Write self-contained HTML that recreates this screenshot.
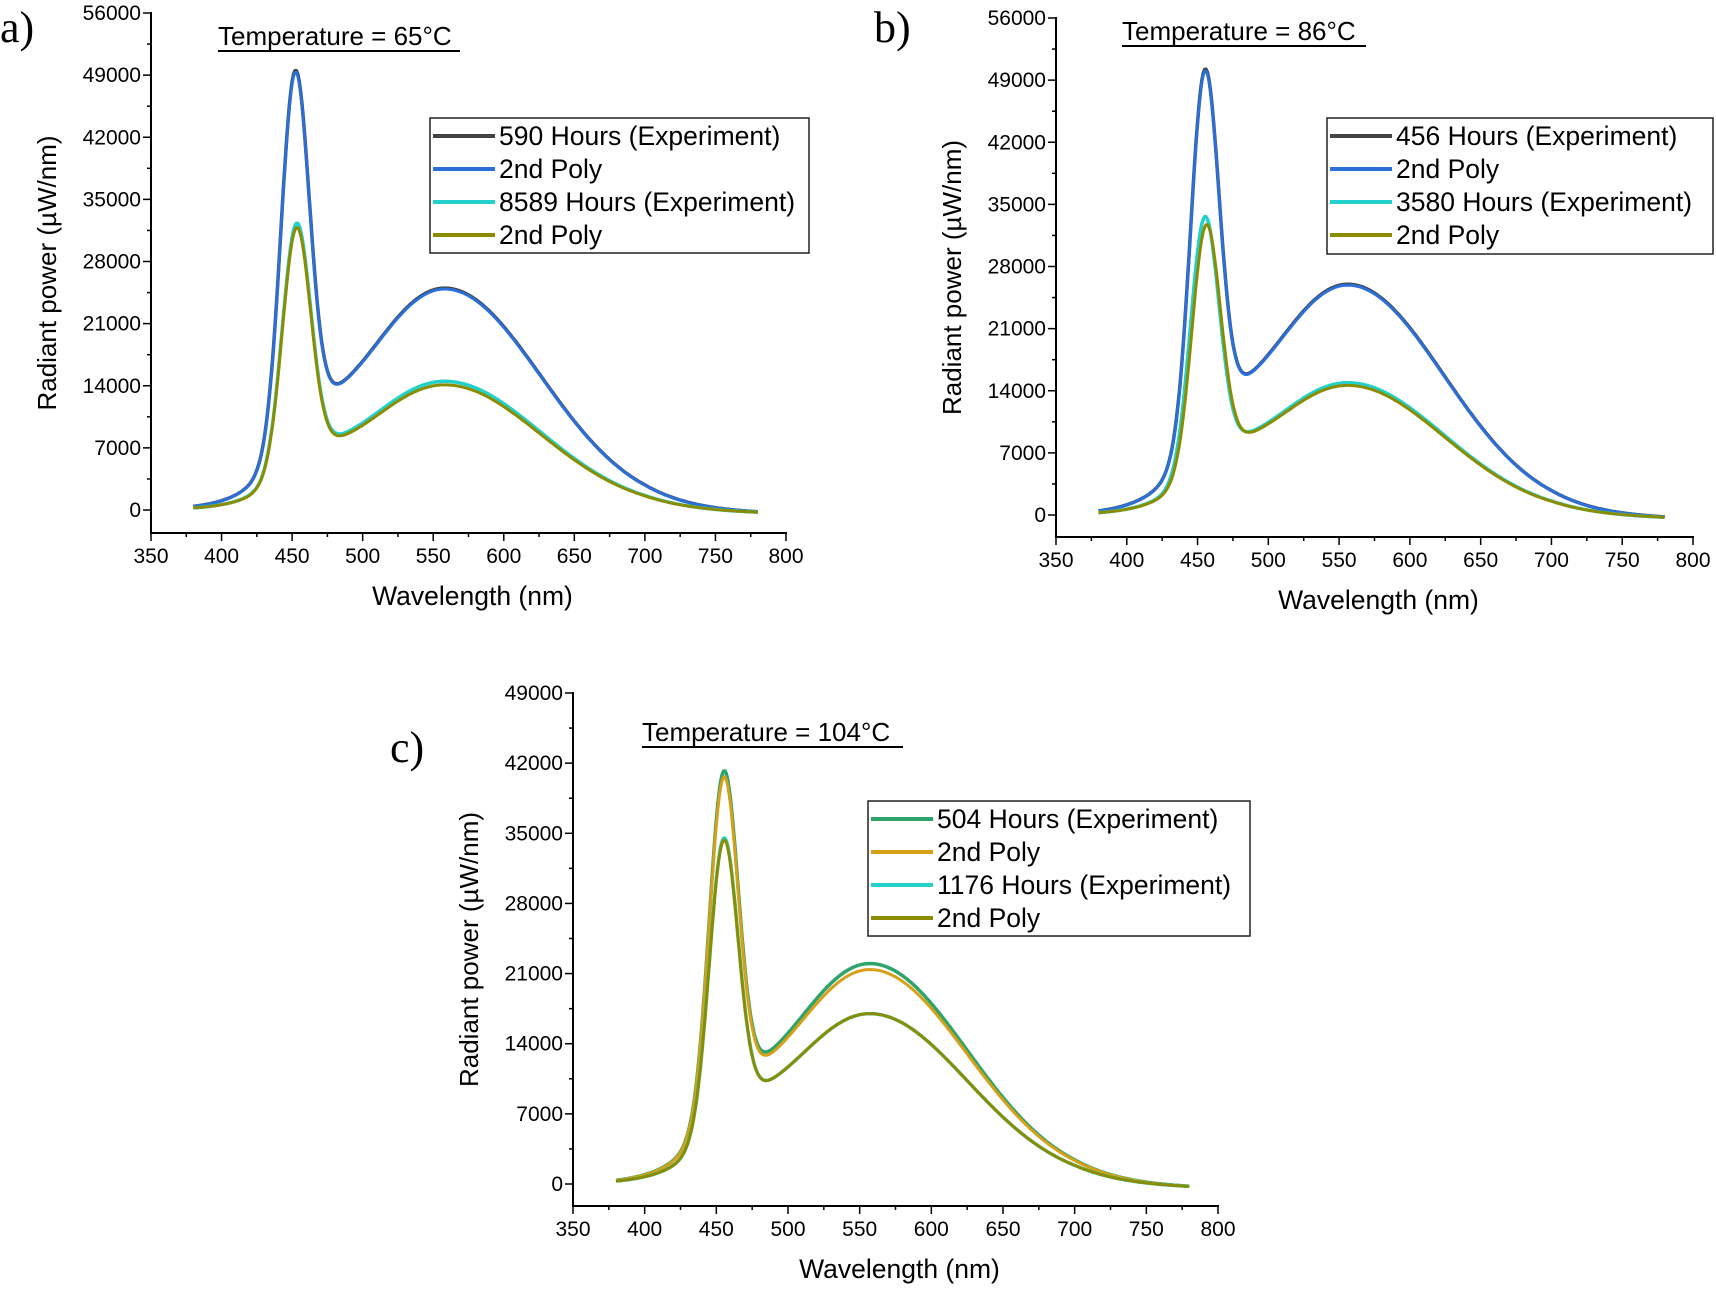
<!DOCTYPE html>
<html><head><meta charset="utf-8">
<style>
html,body{margin:0;padding:0;background:#fff;}
svg{display:block;font-family:"Liberation Sans",Arial,sans-serif;}
</style></head>
<body>
<svg id="s" width="1716" height="1289" viewBox="0 0 1716 1289" xmlns="http://www.w3.org/2000/svg">
<rect width="1716" height="1289" fill="#fff"/>
</svg>
<script>
const NS="http://www.w3.org/2000/svg";
const S=document.getElementById('s');
function el(t,a,txt){const e=document.createElementNS(NS,t);for(const k in a)e.setAttribute(k,a[k]);if(txt!==undefined)e.textContent=txt;S.appendChild(e);return e;}
function yel(x,p){const yc=p.yc||558;const sg=x<yc?62:68;return p.Y*Math.exp(-Math.pow((x-yc)/sg,2)/2);}
function spec(x,p){
  const g=(x,c,s)=>Math.exp(-Math.pow((x-c)/s,2)/2);
  const norm=1+0.08*g(p.c,p.c+8,22);
  const B=(p.P-yel(p.c,p))/norm;
  const blue=B*g(x,p.c,10)+0.08*B*g(x,p.c+8,22);
  return blue+yel(x,p)-(x>700?(x-700)*4:0);
}
function panel(c){
  const X=v=>c.x0+(v-350)*(c.x1-c.x0)/450;
  const Y=v=>c.y0-(v)*(c.y0-c.yt)/c.ymax;
  el('line',{x1:c.x0,y1:Y(c.ymax)-1,x2:c.x0,y2:c.ax,stroke:'#000','stroke-width':2});
  el('line',{x1:c.x0-1,y1:c.ax,x2:c.x1+1,y2:c.ax,stroke:'#000','stroke-width':2});
  for(let v=0;v<=c.ymax;v+=3500){
    const maj=v%7000==0;
    el('line',{x1:c.x0-(maj?8:4),y1:Y(v),x2:c.x0,y2:Y(v),stroke:'#000','stroke-width':1.5});
    if(maj) el('text',{x:c.x0-10,y:Y(v)+7,'text-anchor':'end','font-size':21,fill:'#000'},v);
  }
  for(let v=350;v<=800;v+=25){
    const maj=v%50==0;
    el('line',{x1:X(v),y1:c.ax,x2:X(v),y2:c.ax+(maj?8:4),stroke:'#000','stroke-width':1.5});
    if(maj) el('text',{x:X(v),y:c.ax+30,'text-anchor':'middle','font-size':21,fill:'#000'},v);
  }
  el('text',{x:(c.x0+c.x1)/2+4,y:c.ax+72,'text-anchor':'middle','font-size':26.5,fill:'#000'},'Wavelength (nm)');
  const ly=(c.yt+c.ax)/2;
  el('text',{x:0,y:0,transform:`translate(${c.x0-95},${ly}) rotate(-90)`,'text-anchor':'middle','font-size':26,fill:'#000'},'Radiant power (\u00b5W/nm)');
  for(const s of c.series){
    let d='';
    for(let x=380;x<=780;x+=1){d+=(x==380?'M':'L')+X(x).toFixed(1)+','+Y(spec(x,s.p)).toFixed(1);}
    el('path',{d:d,fill:'none',stroke:s.col,'stroke-width':s.w||3.5,'stroke-linejoin':'round'});
  }
  const L=c.leg;
  el('rect',{x:L.x,y:L.y,width:L.w,height:L.h,fill:'#fff',stroke:'#222','stroke-width':1.5});
  c.series.forEach((s,i)=>{
    const yy=L.y+18+i*33;
    el('line',{x1:L.x+3,y1:yy,x2:L.x+65,y2:yy,stroke:s.col,'stroke-width':4});
    el('text',{x:L.x+69,y:yy+9,'font-size':26.5,fill:'#000'},s.name);
  });
  el('text',{x:c.tx,y:c.ty,'font-size':26,fill:'#000'},c.title);
  el('line',{x1:c.tx,y1:c.ty+6,x2:c.tx2,y2:c.ty+6,stroke:'#000','stroke-width':2});
  el('text',{x:c.lx,y:c.lly,'font-family':'"Liberation Serif",serif','font-size':44,fill:'#000'},c.lab);
}
panel({x0:151,x1:786,y0:510,yt:13,ymax:56000,ax:533,
  title:'Temperature = 65\u00b0C',tx:218,ty:45,tx2:460,lab:'a)',lx:0,lly:42,
  leg:{x:430,y:118,w:379,h:135},
  series:[
   {name:'590 Hours (Experiment)',col:'#444',p:{c:452,P:49500,Y:25000}},
   {name:'2nd Poly',col:'#2b6fd8',w:3,p:{c:452,P:49300,Y:24900}},
   {name:'8589 Hours (Experiment)',col:'#22d0cc',p:{c:453,P:32300,Y:14500}},
   {name:'2nd Poly',col:'#8c8c00',w:3,p:{c:453,P:31800,Y:14100}}]});
panel({x0:1056,x1:1693,y0:515,yt:18,ymax:56000,ax:537,
  title:'Temperature = 86\u00b0C',tx:1122,ty:40,tx2:1366,lab:'b)',lx:874,lly:42,
  leg:{x:1327,y:118,w:386,h:136},
  series:[
   {name:'456 Hours  (Experiment)',col:'#444',p:{c:455,P:50200,Y:26000,yc:556}},
   {name:'2nd Poly',col:'#2b6fd8',w:3,p:{c:455,P:50000,Y:25900,yc:556}},
   {name:'3580 Hours  (Experiment)',col:'#22d0cc',p:{c:455,P:33600,Y:14900,yc:556}},
   {name:'2nd Poly',col:'#8c8c00',w:3,p:{c:456,P:32700,Y:14600,yc:556}}]});
panel({x0:573,x1:1218,y0:1184,yt:693,ymax:49000,ax:1206,
  title:'Temperature = 104\u00b0C',tx:642,ty:741,tx2:903,lab:'c)',lx:390,lly:762,
  leg:{x:868,y:801,w:382,h:135},
  series:[
   {name:'504 Hours (Experiment)',col:'#2ea36a',p:{c:455,P:41200,Y:22000,yc:557}},
   {name:'2nd Poly',col:'#d6a018',w:3,p:{c:455,P:40600,Y:21400,yc:557}},
   {name:'1176 Hours (Experiment)',col:'#22d0cc',p:{c:455,P:34500,Y:17000,yc:557}},
   {name:'2nd Poly',col:'#8c8c00',w:3,p:{c:455,P:34300,Y:17000,yc:557}}]});
</script>
</body></html>
